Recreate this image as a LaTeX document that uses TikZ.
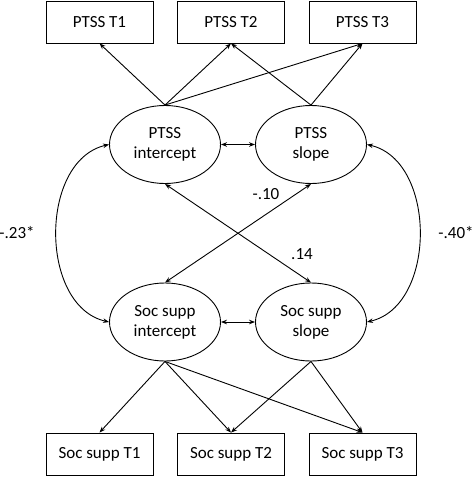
\documentclass[tikz,border=0pt]{standalone}
\usepackage{fontspec}
\setmainfont{Carlito}
\usetikzlibrary{shapes.geometric, arrows.meta, positioning}
\tikzstyle{arrow} = [line width=0.9pt,-{Stealth[length=6pt,width=4.5pt]}]
\tikzstyle{dbl} = [line width=0.9pt,{Stealth[length=6pt,width=4.5pt]}-{Stealth[length=6pt,width=4.5pt]}]

\begin{document}
\begin{tikzpicture}[x=1pt, y=-1pt,
        every node/.style={font=\fontsize{17}{20}\selectfont, text centered},
        obs/.style={draw, line width=0.9pt, rectangle, minimum width=107pt, minimum height=42pt, inner sep=0pt},
        lat/.style={draw, line width=0.9pt, ellipse, minimum width=111pt, minimum height=78pt, inner sep=0pt, align=center},
        lbl/.style={inner sep=1pt}
      ]
        \useasboundingbox (0,0) rectangle (474,477);

        % PTSS indicators
        \node (ptss_t1) [obs] at (99.5,22) {PTSS T1};
        \node (ptss_t2) [obs] at (231,22) {PTSS T2};
        \node (ptss_t3) [obs] at (362.5,22) {PTSS T3};

        % growth factors
        \node (ptss_int) [lat] at (165,144.5) {PTSS\\intercept};
        \node (ptss_slp) [lat] at (311,144.5) {PTSS\\slope};
        \node (soc_int) [lat] at (165,322) {Soc supp\\intercept};
        \node (soc_slp) [lat] at (311,322) {Soc supp\\slope};

        % Soc supp indicators
        \node (soc_t1) [obs] at (99.5,454) {Soc supp T1};
        \node (soc_t2) [obs] at (231,454) {Soc supp T2};
        \node (soc_t3) [obs] at (362.5,454) {Soc supp T3};

        % loadings
        \draw [arrow] (ptss_int.north) -- (ptss_t1.south);
        \draw [arrow] (ptss_int.north) -- (ptss_t2.south);
        \draw [arrow] (ptss_int.north) -- (ptss_t3.south);
        \draw [arrow] (ptss_slp.north) -- (ptss_t2.south);
        \draw [arrow] (ptss_slp.north) -- (ptss_t3.south);
        \draw [arrow] (soc_int.south) -- (soc_t1.north);
        \draw [arrow] (soc_int.south) -- (soc_t2.north);
        \draw [arrow] (soc_int.south) -- (soc_t3.north);
        \draw [arrow] (soc_slp.south) -- (soc_t2.north);
        \draw [arrow] (soc_slp.south) -- (soc_t3.north);

        % covariances
        \draw [dbl] (ptss_int.east) -- (ptss_slp.west);
        \draw [dbl] (soc_int.east) -- (soc_slp.west);
        \draw [dbl] (ptss_int.south) -- (soc_slp.north);
        \draw [dbl] (ptss_slp.south) -- (soc_int.north);
        \draw [dbl] (ptss_int.west) .. controls +(-70,16) and +(-70,-16) .. (soc_int.west);
        \draw [dbl] (ptss_slp.east) .. controls +(70,16) and +(70,-16) .. (soc_slp.east);

        % Labels
        \node (c_left) [lbl] at (17,233) {-.23*};
        \node (c_right) [lbl] at (456,233) {-.40*};
        \node (c_ps) [lbl] at (266,194) {-.10};
        \node (c_ip) [lbl] at (302,254) {.14};
      \end{tikzpicture}
\end{document}
